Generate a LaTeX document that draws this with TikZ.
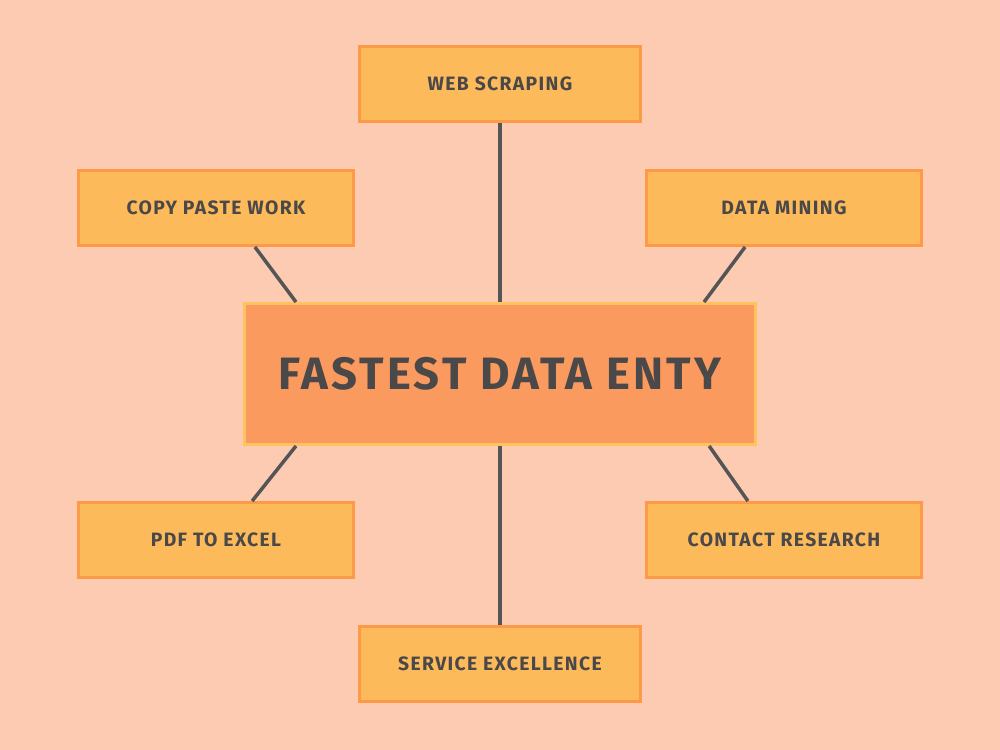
\documentclass[tikz,border=0pt]{standalone}
\usepackage{fontspec}
\setmainfont{Fira Sans}[LetterSpace=7]
\usetikzlibrary{calc}
\definecolor{bg}{HTML}{FDCBB2}
\definecolor{boxfill}{HTML}{FDBA5A}
\definecolor{boxdraw}{HTML}{FC9A48}
\definecolor{cfill}{HTML}{FB9A5E}
\definecolor{cdraw}{HTML}{FDC35E}
\definecolor{txt}{HTML}{4A4848}
\definecolor{ln}{HTML}{555555}
\begin{document}
\begin{tikzpicture}[x=0.02cm,y=-0.02cm,
  sbox/.style={draw=boxdraw,fill=boxfill,line width=1.7pt,minimum width=5.62cm,minimum height=1.5cm,inner sep=0pt,text=txt,font=\fontsize{11}{13}\selectfont\bfseries},
  wbox/.style={sbox,minimum width=5.5cm},
  cbox/.style={draw=cdraw,fill=cfill,line width=1.7pt,minimum width=10.22cm,minimum height=2.82cm,inner sep=0pt,text=txt,font=\fontsize{25.8}{29}\selectfont\bfseries},
  conn/.style={draw=ln,line width=2pt}]
\fill[bg] (0,0) rectangle (1000,750);
\node[sbox] (web) at (500,84) {WEB SCRAPING};
\node[wbox] (copy) at (216,208) {COPY PASTE WORK};
\node[wbox] (mine) at (784,208) {DATA MINING};
\node[cbox] (c) at (500,374) {FASTEST DATA ENTY};
\node[wbox] (pdf) at (216,540) {PDF TO EXCEL};
\node[wbox] (cont) at (784,540) {CONTACT RESEARCH};
\node[sbox] (serv) at (500,664) {SERVICE EXCELLENCE};
\draw[conn] (web.south) -- (c.north);
\draw[conn] (serv.north) -- (c.south);
\draw[conn] ($(copy.south west)!0.64!(copy.south east)$) -- ($(c.north west)!0.103!(c.north east)$);
\draw[conn] ($(mine.south west)!0.36!(mine.south east)$) -- ($(c.north west)!0.897!(c.north east)$);
\draw[conn] ($(pdf.north west)!0.63!(pdf.north east)$) -- ($(c.south west)!0.103!(c.south east)$);
\draw[conn] ($(cont.north west)!0.37!(cont.north east)$) -- ($(c.south west)!0.907!(c.south east)$);
\end{tikzpicture}
\end{document}
